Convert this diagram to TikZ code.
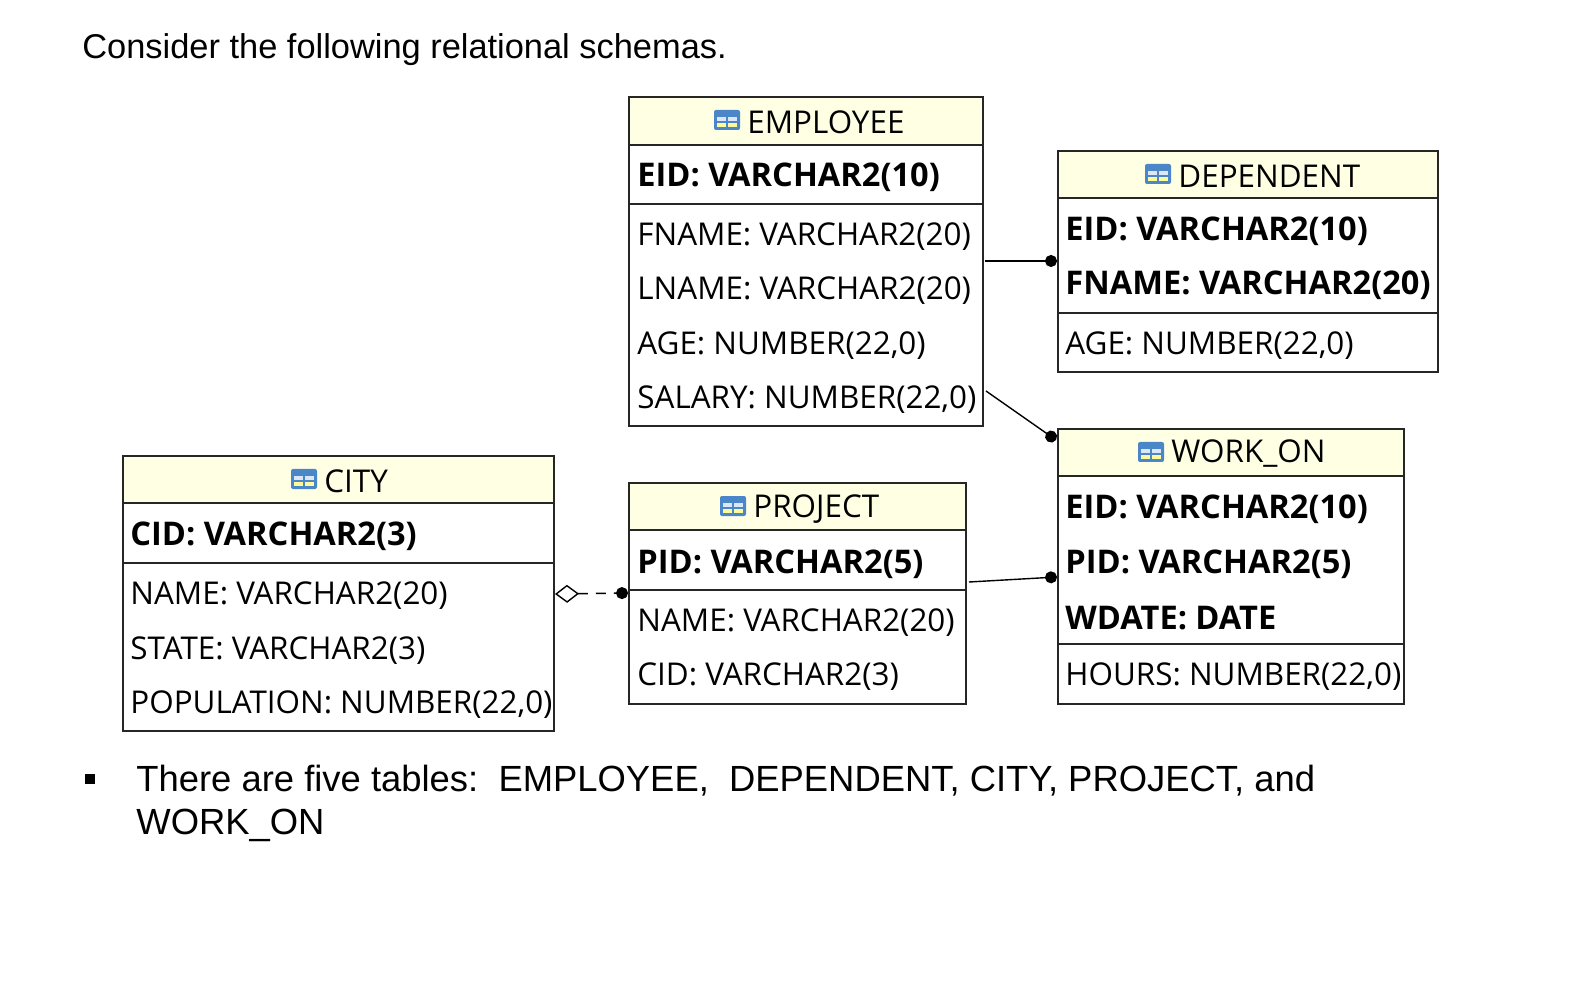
\documentclass[tikz,border=0pt]{standalone}
\usepackage{fontspec}
\setmainfont{Liberation Sans}
\newfontfamily\tabfont{Open Sans}
\usetikzlibrary{arrows.meta}
\definecolor{hdr}{HTML}{FFFFE4}
\definecolor{iconblue}{HTML}{4A86C8}
\begin{document}
\begin{tikzpicture}[x=0.5pt,y=-0.5pt,
  tbl/.style={draw=black!85,line width=0.8pt},
  row/.style={anchor=west,inner sep=0pt,font=\tabfont\fontsize{15.7}{17}\selectfont},
  keyrow/.style={row,font=\tabfont\bfseries\fontsize{16.3}{17}\selectfont},
  head/.style={anchor=west,inner sep=0pt,font=\tabfont\fontsize{15.7}{17}\selectfont},
  conn/.style={line width=0.7pt},
  dotend/.style={-{Circle[length=6pt]}}]
\useasboundingbox (0,0) rectangle (1574,994);
\fill[white] (0,0) rectangle (1574,994);
\newcommand{\tblicon}[2]{%
  \fill[iconblue,rounded corners=1pt] (#1,#2) rectangle ++(26,20);
  \fill[white!80!iconblue] (#1+3,#2+7) rectangle ++(9,4);
  \fill[white!80!iconblue] (#1+14,#2+7) rectangle ++(9,4);
  \fill[yellow!40] (#1+3,#2+13) rectangle ++(9,4);
  \fill[yellow!40] (#1+14,#2+13) rectangle ++(9,4);}
\newcommand{\tablebox}[6]{% x1 y1 x2 y2 yhead ysep
  \fill[hdr] (#1,#2) rectangle (#3,#5);
  \draw[tbl] (#1,#2) rectangle (#3,#4);
  \draw[tbl] (#1,#5) -- (#3,#5);
  \draw[tbl] (#1,#6) -- (#3,#6);}
\node[anchor=west,inner sep=0pt,font=\fontsize{17.2}{20}\selectfont] (title) at (82,50) {Consider the following relational schemas.};
% EMPLOYEE
\tablebox{629}{97}{983}{426}{145}{204}
\tblicon{714}{110}
\node[head] (empH) at (747,122) {EMPLOYEE};
\node[keyrow] (empK) at (637,177) {EID: VARCHAR2(10)};
\node[row] (emp1) at (637,237) {FNAME: VARCHAR2(20)};
\node[row] (emp2) at (637,291) {LNAME: VARCHAR2(20)};
\node[row] (emp3) at (637,346) {AGE: NUMBER(22,0)};
\node[row] (emp4) at (637,400) {SALARY: NUMBER(22,0)};
% DEPENDENT
\tablebox{1058}{151}{1438}{372}{198}{313}
\tblicon{1145}{164}
\node[head] (depH) at (1178,176) {DEPENDENT};
\node[keyrow] (depK1) at (1065,231) {EID: VARCHAR2(10)};
\node[keyrow] (depK2) at (1065,285) {FNAME: VARCHAR2(20)};
\node[row] (dep1) at (1065,346) {AGE: NUMBER(22,0)};
% WORK_ON
\tablebox{1058}{429}{1404}{704}{476}{644}
\tblicon{1138}{442}
\node[head] (woH) at (1171,454) {WORK\_ON};
\node[keyrow] (woK1) at (1065,509) {EID: VARCHAR2(10)};
\node[keyrow] (woK2) at (1065,564) {PID: VARCHAR2(5)};
\node[keyrow] (woK3) at (1065,618) {WDATE: DATE};
\node[row] (wo1) at (1065,677) {HOURS: NUMBER(22,0)};
% CITY
\tablebox{123}{456}{554}{731}{503}{563}
\tblicon{291}{469}
\node[head] (cityH) at (324,481) {CITY};
\node[keyrow] (cityK) at (130,536) {CID: VARCHAR2(3)};
\node[row] (city1) at (130,596) {NAME: VARCHAR2(20)};
\node[row] (city2) at (130,651) {STATE: VARCHAR2(3)};
\node[row] (city3) at (130,705) {POPULATION: NUMBER(22,0)};
% PROJECT
\tablebox{629}{483}{966}{704}{530}{590}
\tblicon{720}{496}
\node[head] (prjH) at (753,509) {PROJECT};
\node[keyrow] (prjK) at (637,564) {PID: VARCHAR2(5)};
\node[row] (prj1) at (637,623) {NAME: VARCHAR2(20)};
\node[row] (prj2) at (637,677) {CID: VARCHAR2(3)};
% connectors
\coordinate (c1a) at (985,261); \coordinate (c1b) at (1057,261);
\coordinate (c2a) at (986,391); \coordinate (c2b) at (1056,440);
\coordinate (c3a) at (969,582); \coordinate (c3b) at (1057,577);
\coordinate (c4a) at (555,594); \coordinate (c4b) at (628,593);
\draw[conn,dotend] (c1a) -- (c1b);
\draw[conn,dotend] (c2a) -- (c2b);
\draw[conn,dotend] (c3a) -- (c3b);
\draw[conn,dashed,dash pattern=on 5pt off 4pt,{Diamond[open,length=12pt,width=9pt]}-{Circle[length=6pt]}] (c4a) -- (c4b);
% bullet
\fill (85,774) rectangle (95,784);
\node[anchor=west,inner sep=0pt,font=\fontsize{18.2}{22}\selectfont] (b1) at (136,781) {There are five tables:\ \ EMPLOYEE,\ \ DEPENDENT, CITY, PROJECT, and};
\node[anchor=west,inner sep=0pt,font=\fontsize{18.2}{22}\selectfont] (b2) at (136,825) {WORK\_ON};
\end{tikzpicture}
\end{document}
